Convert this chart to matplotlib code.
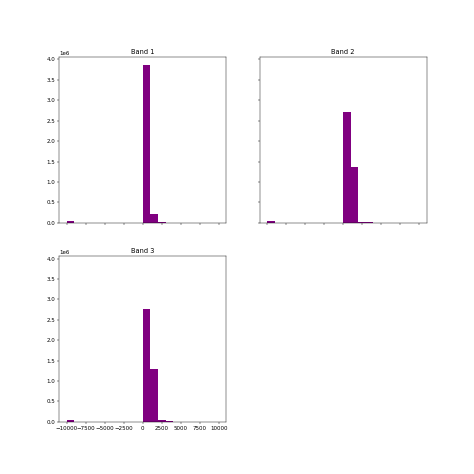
import numpy as np
import matplotlib
matplotlib.use("Agg")
import matplotlib.pyplot as plt

# histogram bins: 20 bins of width 1000 from -10000 to 10000
bin_edges = np.arange(-10000, 10001, 1000)

# counts per bin, index 0 = [-10000, -9000)
band1_counts = [0.05e6, 0, 0, 0, 0, 0, 0, 0, 0, 0,
                3.87e6, 0.22e6, 0.015e6, 0.005e6, 0.002e6, 0, 0, 0, 0, 0]
band2_counts = [0.05e6, 0, 0, 0, 0, 0, 0, 0, 0, 0,
                2.72e6, 1.36e6, 0.02e6, 0.01e6, 0.005e6, 0, 0, 0, 0, 0]
band3_counts = [0.05e6, 0, 0, 0, 0, 0, 0, 0, 0, 0,
                2.76e6, 1.30e6, 0.04e6, 0.01e6, 0.005e6, 0, 0, 0, 0, 0]

band_titles = ["Band 1", "Band 2", "Band 3"]
band_counts = [band1_counts, band2_counts, band3_counts]

fig, axes = plt.subplots(2, 2, figsize=(12, 12), sharex=True, sharey=True)
axes = axes.ravel()

for ax, title, counts in zip(axes, band_titles, band_counts):
    ax.hist(bin_edges[:-1], bins=bin_edges, weights=counts, color="purple")
    ax.set_title(title)

# 4th panel unused
axes[3].remove()
axes[2].xaxis.set_tick_params(labelbottom=True)

fig.savefig("out.png", dpi=39.5)
